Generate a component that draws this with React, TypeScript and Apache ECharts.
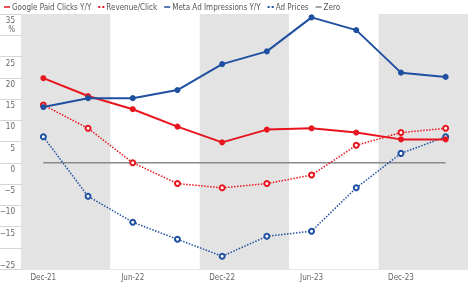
import React, { useEffect, useRef } from "react";
import * as echarts from "echarts";

const categories = ["Dec-21", "Mar-22", "Jun-22", "Sep-22", "Dec-22", "Mar-23", "Jun-23", "Sep-23", "Dec-23", "Mar-24"];
const googlePaidClicks = [19.9, 15.7, 12.6, 8.5, 4.8, 7.8, 8.1, 7.1, 5.5, 5.5];
const revenuePerClick = [13.6, 8.1, 0.0, -4.9, -5.9, -4.9, -2.9, 4.1, 7.1, 8.1];
const metaImpressions = [13.1, 15.2, 15.2, 17.1, 23.2, 26.2, 34.2, 31.2, 21.2, 20.2];
const adPrices = [6.1, -7.9, -14.0, -18.0, -22.0, -17.3, -16.1, -5.9, 2.2, 6.1];
const zero = [0, 0, 0, 0, 0, 0, 0, 0, 0, 0];

const RED = "#e8141e";
const BLUE = "#1f4fa0";
const FONT = "'DejaVu Sans Condensed', 'Liberation Sans Narrow', sans-serif";
const TXT = "#666666";
const FS = 8;

const fmt = (v: number) => (v < 0 ? "\u2212" + Math.abs(v) : String(v));

export default function App() {
  const ref = useRef<HTMLDivElement>(null);
  useEffect(() => {
    if (!ref.current) return;
    const chart = echarts.init(ref.current, undefined, { renderer: "svg" });
    const solidIcon = "path://M0,0h8v2h-8z";
    const dotIcon = "path://M0,0h2v2h-2zM4,0h2v2h-2z";
    chart.setOption({
      animation: false,
      textStyle: { fontFamily: FONT },
      legend: {
        left: -1,
        top: -2,
        itemWidth: 6,
        itemHeight: 8,
        itemGap: 7,
        textStyle: { fontFamily: FONT, fontSize: FS, color: "#555", padding: [0, 0, 0, -3] },
        data: [
          { name: "Google Paid Clicks Y/Y", icon: solidIcon },
          { name: "Revenue/Click", icon: dotIcon },
          { name: "Meta Ad Impressions Y/Y", icon: solidIcon },
          { name: "Ad Prices", icon: dotIcon },
          { name: "Zero", icon: solidIcon },
        ],
      },
      grid: { left: 21, right: 6, top: 14, bottom: 15, containLabel: false, outerBoundsMode: "none" },
      xAxis: {
        type: "category",
        data: categories,
        boundaryGap: true,
        axisLine: { show: false },
        axisTick: { show: false },
        axisLabel: { interval: 1, color: TXT, fontSize: FS, margin: 4, fontFamily: FONT, verticalAlign: "top" },
        splitArea: { show: true, interval: 1, areaStyle: { color: ["#e3e3e3", "#ffffff"] } },
        splitLine: { show: false },
      },
      yAxis: [
        {
          type: "value",
          min: -25,
          max: 35,
          interval: 5,
          axisLine: { show: false },
          axisTick: { show: true, inside: false, length: 21, lineStyle: { color: "#d6d6d6", width: 1 } },
          splitLine: { show: true, lineStyle: { color: "#e6e6e6", width: 1 } },
          axisLabel: {
            margin: 6,
            color: TXT,
            fontSize: FS,
            lineHeight: 9,
            fontFamily: FONT,
            verticalAlign: "top",
            padding: [2, 0, 0, 0],
            formatter: (v: number) => (v === 35 ? "35\n%" : v === 30 || v === -20 || v === -25 ? "" : fmt(v)),
          },
        },
        {
          type: "value",
          min: -25,
          max: 35,
          interval: 5,
          position: "left",
          axisLine: { show: false },
          axisTick: { show: false },
          splitLine: { show: false },
          axisLabel: {
            margin: 6,
            color: TXT,
            fontSize: FS,
            fontFamily: FONT,
            verticalAlign: "bottom",
            formatter: (v: number) => (v === -25 ? fmt(v) : ""),
          },
        },
      ],
      series: [
        {
          name: "Zero",
          type: "line",
          data: zero,
          symbol: "none",
          lineStyle: { color: "#8a8a8a", width: 1.5 },
          itemStyle: { color: "#8a8a8a" },
          z: 1,
        },
        {
          name: "Google Paid Clicks Y/Y",
          type: "line",
          data: googlePaidClicks,
          symbol: "circle",
          symbolSize: 6,
          lineStyle: { color: RED, width: 2 },
          itemStyle: { color: RED },
          z: 3,
        },
        {
          name: "Revenue/Click",
          type: "line",
          data: revenuePerClick,
          symbol: "emptyCircle",
          symbolSize: 5,
          lineStyle: { color: RED, width: 1.5, type: "dotted" },
          itemStyle: { color: RED, borderWidth: 1.5 },
          z: 2,
        },
        {
          name: "Meta Ad Impressions Y/Y",
          type: "line",
          data: metaImpressions,
          symbol: "circle",
          symbolSize: 6,
          lineStyle: { color: BLUE, width: 2 },
          itemStyle: { color: BLUE },
          z: 3,
        },
        {
          name: "Ad Prices",
          type: "line",
          data: adPrices,
          symbol: "emptyCircle",
          symbolSize: 5,
          lineStyle: { color: BLUE, width: 1.5, type: "dotted" },
          itemStyle: { color: BLUE, borderWidth: 1.5 },
          z: 2,
        },
      ],
    });
    return () => chart.dispose();
  }, []);
  return <div ref={ref} style={{ position: "fixed", left: 0, top: 0, width: 474, height: 284 }} />;
}
